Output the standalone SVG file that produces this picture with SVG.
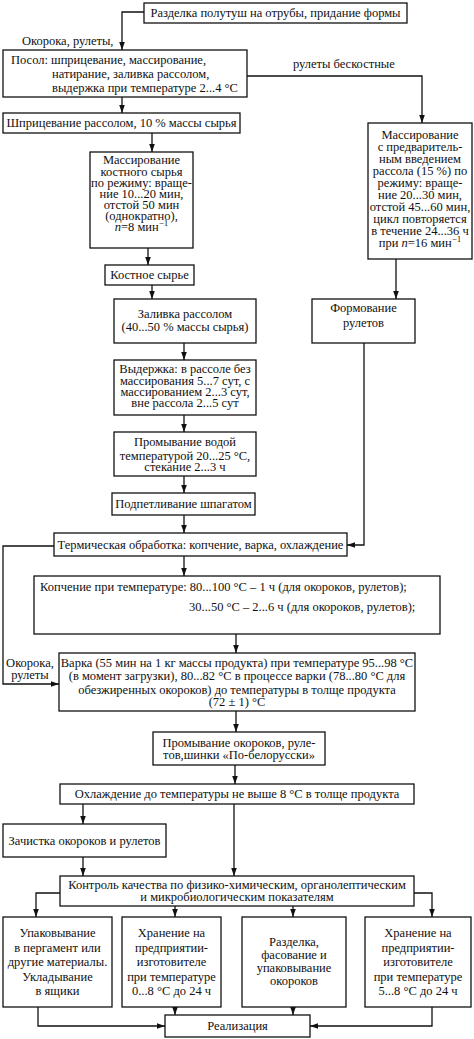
<svg xmlns="http://www.w3.org/2000/svg" width="474" height="1039" viewBox="0 0 474 1039">
<style>
rect{fill:#fff;stroke:#111;stroke-width:1.3}
text{font-family:"Liberation Serif","Times New Roman",serif;font-size:12.5px;fill:#111}
.c{text-anchor:middle}
.l{fill:none;stroke:#111;stroke-width:1.3}
</style>
<defs>
<marker id="a" markerUnits="userSpaceOnUse" markerWidth="8" markerHeight="8" viewBox="0 0 8 8" refX="8" refY="4" orient="auto"><path d="M0,1.2 L8,4 L0,6.8 Z" fill="#111"/></marker>
</defs>
<g id="connectors">
<path class="l" d="M144,12 H122 V50" marker-end="url(#a)"/>
<path class="l" d="M247,76 H422 V123" marker-end="url(#a)"/>
<path class="l" d="M122,97 V113" marker-end="url(#a)"/>
<path class="l" d="M152,133 V152" marker-end="url(#a)"/>
<path class="l" d="M148,248 V265" marker-end="url(#a)"/>
<path class="l" d="M152,285 V299" marker-end="url(#a)"/>
<path class="l" d="M396,259 V299" marker-end="url(#a)"/>
<path class="l" d="M364,343 V545 H347" marker-end="url(#a)"/>
<path class="l" d="M184,343 V360" marker-end="url(#a)"/>
<path class="l" d="M184,415 V432" marker-end="url(#a)"/>
<path class="l" d="M184,476 V493" marker-end="url(#a)"/>
<path class="l" d="M184,515 V533" marker-end="url(#a)"/>
<path class="l" d="M54,546 H3 V684 H59" marker-end="url(#a)"/>
<path class="l" d="M184,556 V576" marker-end="url(#a)"/>
<path class="l" d="M236,634 V653" marker-end="url(#a)"/>
<path class="l" d="M236,711 V732" marker-end="url(#a)"/>
<path class="l" d="M235,765 V784" marker-end="url(#a)"/>
<path class="l" d="M83,804 V824" marker-end="url(#a)"/>
<path class="l" d="M83,857 V876" marker-end="url(#a)"/>
<path class="l" d="M234,804 V876" marker-end="url(#a)"/>
<path class="l" d="M60,893 H36 V917" marker-end="url(#a)"/>
<path class="l" d="M414,893 H432 V917" marker-end="url(#a)"/>
<path class="l" d="M175,906 V917" marker-end="url(#a)"/>
<path class="l" d="M293,906 V917" marker-end="url(#a)"/>
<path class="l" d="M38,1007 V1026 H165" marker-end="url(#a)"/>
<path class="l" d="M175,1007 V1015" marker-end="url(#a)"/>
<path class="l" d="M293,1007 V1015" marker-end="url(#a)"/>
<path class="l" d="M432,1007 V1026 H310" marker-end="url(#a)"/>
</g>
<g id="labels">
<text x="22" y="45">Окорока, рулеты,</text>
<text x="293" y="68">рулеты  бескостные</text>
<text class="c" x="30" y="667">Окорока,</text>
<text class="c" x="30" y="679">рулеты</text>
</g>
<g id="n1"><rect x="144" y="3" width="263" height="20"/><text class="c" x="275.5" y="17">Разделка полутуш на отрубы, придание формы</text></g>
<g id="n2"><rect x="3" y="50" width="244" height="47"/>
<text x="11" y="64">Посол: шприцевание, массирование,</text>
<text x="52" y="78">натирание, заливка рассолом,</text>
<text x="52" y="92">выдержка при температуре 2...4 °С</text></g>
<g id="n3"><rect x="3" y="113" width="237" height="20"/><text class="c" x="121.5" y="127">Шприцевание рассолом, 10 % массы сырья</text></g>
<g id="n4"><rect x="90" y="152" width="103" height="96"/>
<text class="c" x="141.5" y="164">Массирование</text>
<text class="c" x="141.5" y="176">костного сырья</text>
<text class="c" x="141.5" y="187">по режиму: враще-</text>
<text class="c" x="141.5" y="198">ние 10...20 мин,</text>
<text class="c" x="141.5" y="209">отстой 50 мин</text>
<text class="c" x="141.5" y="220">(однократно),</text>
<text class="c" x="141.5" y="231"><tspan font-style="italic">n</tspan>=8 мин<tspan dy="-5" font-size="9">−1</tspan></text></g>
<g id="n5"><rect x="105" y="265" width="89" height="20"/><text class="c" x="149.5" y="279">Костное сырье</text></g>
<g id="n6"><rect x="368" y="123" width="104" height="136"/>
<text class="c" x="420" y="139">Массирование</text>
<text class="c" x="420" y="151">с предваритель-</text>
<text class="c" x="420" y="163">ным введением</text>
<text class="c" x="420" y="175">рассола (15 %) по</text>
<text class="c" x="420" y="187">режиму: враще-</text>
<text class="c" x="420" y="199">ние 20...30 мин,</text>
<text class="c" x="420" y="211">отстой 45...60 мин,</text>
<text class="c" x="420" y="223">цикл повторяется</text>
<text class="c" x="420" y="235">в течение 24...36 ч</text>
<text class="c" x="420" y="247">при <tspan font-style="italic">n</tspan>=16 мин<tspan dy="-5" font-size="9">−1</tspan></text></g>
<g id="n7"><rect x="312" y="299" width="103" height="44"/>
<text class="c" x="363.5" y="312">Формование</text>
<text class="c" x="363.5" y="327">рулетов</text></g>
<g id="n8"><rect x="114" y="299" width="142" height="44"/>
<text class="c" x="185" y="318">Заливка рассолом</text>
<text class="c" x="185" y="331">(40...50 % массы сырья)</text></g>
<g id="n9"><rect x="114" y="360" width="142" height="55"/>
<text class="c" x="185" y="373">Выдержка: в рассоле без</text>
<text class="c" x="185" y="385">массирования 5...7 сут, с</text>
<text class="c" x="185" y="396">массированием 2...3 сут,</text>
<text class="c" x="185" y="407">вне рассола 2...5 сут</text></g>
<g id="n10"><rect x="114" y="432" width="142" height="44"/>
<text class="c" x="185" y="446">Промывание водой</text>
<text class="c" x="185" y="460">температурой 20...25 °С,</text>
<text class="c" x="185" y="471">стекание 2...3 ч</text></g>
<g id="n11"><rect x="112" y="493" width="143" height="22"/><text class="c" x="183.5" y="508">Подпетливание шпагатом</text></g>
<g id="n12"><rect x="54" y="533" width="293" height="23"/><text class="c" x="200.5" y="549">Термическая обработка: копчение, варка, охлаждение</text></g>
<g id="n13"><rect x="34" y="576" width="406" height="58"/>
<text x="40" y="591">Копчение при температуре: 80...100 °С – 1 ч (для окороков, рулетов);</text>
<text x="189" y="611">30...50 °С – 2...6 ч (для окороков, рулетов);</text></g>
<g id="n14"><rect x="59" y="653" width="356" height="58"/>
<text class="c" x="237" y="667">Варка (55 мин на 1 кг массы продукта) при температуре 95...98 °С</text>
<text class="c" x="237" y="680">(в момент загрузки), 80...82 °С в процессе варки (78...80 °С для</text>
<text class="c" x="237" y="694">обезжиренных окороков) до температуры в толще продукта</text>
<text class="c" x="237" y="706">(72 ± 1) °С</text></g>
<g id="n15"><rect x="153" y="732" width="172" height="33"/>
<text class="c" x="239" y="747">Промывание окороков, руле-</text>
<text class="c" x="239" y="759">тов,шинки «По-белорусски»</text></g>
<g id="n16"><rect x="60" y="784" width="354" height="20"/><text class="c" x="237" y="798">Охлаждение до температуры не выше 8 °С в толще продукта</text></g>
<g id="n17"><rect x="3" y="824" width="163" height="33"/><text class="c" x="84.5" y="845">Зачистка окороков и рулетов</text></g>
<g id="n18"><rect x="60" y="876" width="354" height="30"/>
<text class="c" x="237" y="889">Контроль качества по физико-химическим, органолептическим</text>
<text class="c" x="237" y="901">и микробиологическим показателям</text></g>
<g id="n19"><rect x="3" y="917" width="109" height="90"/>
<text class="c" x="57.5" y="937">Упаковывание</text>
<text class="c" x="57.5" y="952">в пергамент или</text>
<text class="c" x="57.5" y="966">другие материалы.</text>
<text class="c" x="57.5" y="981">Укладывание</text>
<text class="c" x="57.5" y="995">в ящики</text></g>
<g id="n20"><rect x="122" y="917" width="99" height="90"/>
<text class="c" x="171.5" y="937">Хранение на</text>
<text class="c" x="171.5" y="952">предприятии-</text>
<text class="c" x="171.5" y="966">изготовителе</text>
<text class="c" x="171.5" y="981">при температуре</text>
<text class="c" x="171.5" y="995">0...8 °С до 24 ч</text></g>
<g id="n21"><rect x="242" y="917" width="104" height="90"/>
<text class="c" x="294" y="946">Разделка,</text>
<text class="c" x="294" y="959">фасование и</text>
<text class="c" x="294" y="972">упаковывание</text>
<text class="c" x="294" y="985">окороков</text></g>
<g id="n22"><rect x="365" y="917" width="106" height="90"/>
<text class="c" x="418" y="937">Хранение на</text>
<text class="c" x="418" y="952">предприятии-</text>
<text class="c" x="418" y="966">изготовителе</text>
<text class="c" x="418" y="981">при температуре</text>
<text class="c" x="418" y="995">5...8 °С до 24 ч</text></g>
<g id="n23"><rect x="165" y="1015" width="145" height="22"/><text class="c" x="237.5" y="1030">Реализация</text></g>
</svg>
